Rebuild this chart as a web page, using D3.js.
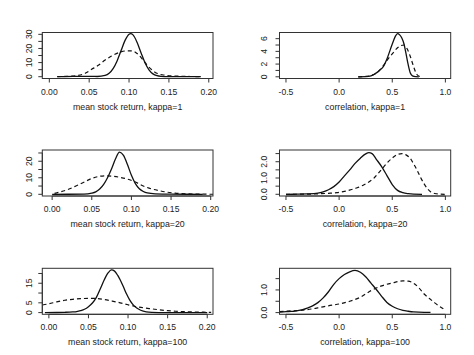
<!DOCTYPE html>
<html><head><meta charset="utf-8">
<script src="https://cdn.jsdelivr.net/npm/d3@7"></script>
<style>body{margin:0;background:#fff}svg{display:block}text{font-family:"Liberation Sans",Arial,sans-serif;fill:#222}</style>
</head><body><svg id="c" width="474" height="355"></svg>
<script>
// ---- data ----
const titles = ["mean stock return, kappa=1","correlation, kappa=1","mean stock return, kappa=20","correlation, kappa=20","mean stock return, kappa=100","correlation, kappa=100"];
const xTicksRet = [0.00,0.05,0.10,0.15,0.20];
const xTickLabelsRet = ["0.00","0.05","0.10","0.15","0.20"];
const xTicksCor = [-0.5,0.0,0.5,1.0];
const xTickLabelsCor = ["-0.5","0.0","0.5","1.0"];
const yTicks1 = [0,5,10,15,20,25,30], yLabels1 = {0:"0",10:"10",20:"20",30:"30"};
const yTicks2 = [0,1,2,3,4,5,6], yLabels2 = {0:"0",2:"2",4:"4",6:"6"};
const yTicks3 = [0,5,10,15,20,25], yLabels3 = {0:"0",10:"10",20:"20"};
const yTicks4 = [0,0.5,1,1.5,2,2.5], yLabels4 = {0:"0.0",1:"1.0",2:"2.0"};
const yTicks5 = [0,5,10,15,20], yLabels5 = {0:"0",5:"5",15:"15"};
const yTicks6 = [0,0.5,1,1.5], yLabels6 = {0:"0.0",1:"1.0"};

// panel 1: mean stock return, kappa=1
const p1SolidX = [0.01,0.03,0.045,0.055,0.06,0.07,0.075,0.08,0.085,0.09,0.095,0.10,0.102,0.105,0.11,0.115,0.12,0.125,0.13,0.135,0.14,0.15,0.17,0.19];
const p1SolidY = [0.05,0.2,0.3,0.2,0.15,0.9,2.4,5.7,11.2,18.5,25.7,30.1,30.5,29.6,24.4,17.0,9.9,4.9,2.0,0.7,0.25,0.05,0.02,0.0];
const p1DashX = [0.01,0.025,0.035,0.045,0.053,0.062,0.070,0.078,0.087,0.095,0.1035,0.110,0.116,0.1225,0.129,0.135,0.1435,0.156,0.173,0.19];
const p1DashY = [0.1,0.3,0.8,2.4,5.2,8.3,11.8,14.6,17.0,18.2,18.3,16.5,13.0,8.3,4.7,2.4,1.2,0.5,0.2,0.1];
// panel 2: correlation, kappa=1
const p2SolidX = [0.18,0.25,0.30,0.34,0.38,0.42,0.45,0.48,0.51,0.53,0.55,0.57,0.59,0.61,0.63,0.65,0.67,0.69,0.72,0.75];
const p2SolidY = [0.0,0.03,0.15,0.5,1.0,1.7,2.8,4.2,5.6,6.4,6.8,6.6,6.1,5.2,3.6,1.9,0.6,0.15,0.02,0.0];
const p2DashX = [0.18,0.25,0.30,0.35,0.40,0.435,0.47,0.50,0.545,0.58,0.61,0.64,0.67,0.70,0.73,0.76,0.78];
const p2DashY = [0.0,0.05,0.2,0.6,1.4,2.2,3.0,3.6,4.5,4.9,5.0,4.4,3.2,1.65,0.4,0.05,0.0];
// panel 3: mean stock return, kappa=20
const p3SolidX = [0.0,0.02,0.04,0.05,0.055,0.06,0.065,0.07,0.075,0.08,0.085,0.09,0.095,0.10,0.105,0.11,0.115,0.12,0.13,0.15,0.17,0.19];
const p3SolidY = [0.0,0.03,0.1,0.7,1.5,3.2,6.0,10.2,15.5,21.5,25.5,23.5,18.0,11.5,6.5,3.4,1.7,0.8,0.25,0.05,0.02,0.0];
const p3DashX = [0.003,0.01,0.02,0.03,0.04,0.05,0.06,0.068,0.075,0.085,0.095,0.105,0.115,0.125,0.135,0.145,0.155,0.17,0.185,0.205];
const p3DashY = [0.6,1.4,2.9,5.0,7.3,9.6,10.9,11.2,11.0,10.3,9.2,7.4,5.0,3.3,2.2,1.3,0.7,0.25,0.1,0.03];
// panel 4: correlation, kappa=20
const p4SolidX = [-0.5,-0.4,-0.3,-0.2,-0.15,-0.1,-0.05,0.0,0.05,0.1,0.15,0.2,0.25,0.28,0.31,0.35,0.4,0.45,0.5,0.55,0.6,0.65,0.7,0.78];
const p4SolidY = [0.0,0.005,0.02,0.07,0.15,0.28,0.47,0.75,1.13,1.5,1.9,2.22,2.48,2.56,2.5,2.15,1.7,1.15,0.6,0.24,0.1,0.04,0.01,0.0];
const p4DashX = [-0.5,-0.3,-0.2,-0.1,-0.02,0.05,0.105,0.17,0.23,0.28,0.326,0.37,0.42,0.47,0.514,0.55,0.592,0.63,0.67,0.70,0.733,0.765,0.797,0.83,0.86,0.9,0.95,1.0];
const p4DashY = [0.0,0.01,0.03,0.06,0.1,0.18,0.27,0.4,0.57,0.76,0.98,1.3,1.69,2.05,2.3,2.45,2.5,2.42,2.2,1.88,1.49,1.05,0.67,0.35,0.16,0.05,0.01,0.0];
// panel 5: mean stock return, kappa=100
const p5SolidX = [-0.005,0.01,0.02,0.03,0.035,0.04,0.045,0.05,0.055,0.06,0.065,0.07,0.075,0.079,0.083,0.087,0.09,0.094,0.098,0.102,0.106,0.111,0.116,0.123,0.13,0.15,0.17,0.2];
const p5SolidY = [0.0,0.05,0.15,0.35,0.55,1.0,1.7,3.0,4.9,7.8,12.2,16.8,20.4,21.8,21.2,19.0,16.8,13.3,9.6,6.5,4.2,2.3,1.2,0.4,0.15,0.03,0.01,0.0];
const p5DashX = [-0.008,0.0,0.01,0.02,0.03,0.04,0.05,0.06,0.07,0.08,0.09,0.10,0.11,0.12,0.13,0.14,0.15,0.16,0.17,0.18,0.19,0.20,0.205];
const p5DashY = [3.9,4.5,5.5,6.3,6.8,7.1,7.3,7.2,6.7,5.9,5.0,4.0,3.1,2.4,1.9,1.4,1.0,0.7,0.5,0.35,0.25,0.15,0.1];
// panel 6: correlation, kappa=100
const p6SolidX = [-0.56,-0.5,-0.45,-0.4,-0.35,-0.3,-0.25,-0.2,-0.15,-0.1,-0.05,0.0,0.05,0.1,0.15,0.2,0.25,0.3,0.35,0.4,0.45,0.5,0.55,0.6,0.65,0.7,0.8,0.86];
const p6SolidY = [0.02,0.04,0.05,0.08,0.12,0.2,0.3,0.44,0.65,0.92,1.25,1.5,1.68,1.8,1.86,1.78,1.58,1.3,1.02,0.72,0.45,0.28,0.17,0.1,0.06,0.03,0.01,0.01];
const p6DashX = [-0.56,-0.5,-0.4,-0.3,-0.2,-0.1,0.0,0.1,0.2,0.3,0.4,0.5,0.6,0.65,0.7,0.75,0.8,0.85,0.9,0.95,1.0];
const p6DashY = [0.04,0.06,0.09,0.13,0.21,0.3,0.38,0.5,0.68,0.97,1.18,1.31,1.4,1.39,1.3,1.1,0.82,0.62,0.43,0.26,0.11];

// ---- layout ----
const colBox = [[42.3,213],[279.5,450.7]];
const rowTop = [32.5,150,268.3];
const boxH = 46;
const xDomRet = [[-0.0088,0.2053],[-0.0124,0.2029],[-0.0083,0.2073]];
const xDomCor = [-0.561,1.05];
const yDoms = [[-1.27,31.3],[-0.27,6.97],[-1.03,26.8],[-0.105,2.72],[-0.87,22.65],[-0.075,1.956]];
const yLabOff = [13,16];

const panels = [
  {sx:p1SolidX,sy:p1SolidY,dx:p1DashX,dy:p1DashY,yt:yTicks1,yl:yLabels1},
  {sx:p2SolidX,sy:p2SolidY,dx:p2DashX,dy:p2DashY,yt:yTicks2,yl:yLabels2},
  {sx:p3SolidX,sy:p3SolidY,dx:p3DashX,dy:p3DashY,yt:yTicks3,yl:yLabels3},
  {sx:p4SolidX,sy:p4SolidY,dx:p4DashX,dy:p4DashY,yt:yTicks4,yl:yLabels4},
  {sx:p5SolidX,sy:p5SolidY,dx:p5DashX,dy:p5DashY,yt:yTicks5,yl:yLabels5},
  {sx:p6SolidX,sy:p6SolidY,dx:p6DashX,dy:p6DashY,yt:yTicks6,yl:yLabels6}
];

const svg = d3.select("#c");
svg.append("rect").attr("width",474).attr("height",355).attr("fill","#fff");
const FS = 8.6, FT = 8.8, axisCol = "#333", tick = 4;

panels.forEach((p,i)=>{
  const col = i%2, row = Math.floor(i/2);
  const [x0,x1] = colBox[col];
  const y0 = rowTop[row], y1 = y0+boxH;
  const xs = d3.scaleLinear().domain(col===0 ? xDomRet[row] : xDomCor).range([x0,x1]);
  const ys = d3.scaleLinear().domain(yDoms[i]).range([y1,y0]);
  const g = svg.append("g");
  const cid = "clip"+i;
  svg.append("clipPath").attr("id",cid).append("rect").attr("x",x0).attr("y",y0).attr("width",x1-x0).attr("height",y1-y0);

  const line = d3.line().x(d=>xs(d[0])).y(d=>ys(d[1])).curve(d3.curveMonotoneX);
  g.append("path").attr("clip-path",`url(#${cid})`)
    .attr("d", line(d3.zip(p.dx,p.dy)))
    .attr("fill","none").attr("stroke","#111").attr("stroke-width",1.2).attr("stroke-dasharray","4,3");
  g.append("path").attr("clip-path",`url(#${cid})`)
    .attr("d", line(d3.zip(p.sx,p.sy)))
    .attr("fill","none").attr("stroke","#111").attr("stroke-width",1.3);

  // box
  g.append("rect").attr("x",x0).attr("y",y0).attr("width",x1-x0).attr("height",y1-y0)
    .attr("fill","none").attr("stroke",axisCol).attr("stroke-width",1);

  // x axis
  const xt = col===0 ? xTicksRet : xTicksCor;
  const xl = col===0 ? xTickLabelsRet : xTickLabelsCor;
  g.append("line").attr("x1",xs(xt[0])).attr("x2",xs(xt[xt.length-1])).attr("y1",y1).attr("y2",y1).attr("stroke",axisCol);
  xt.forEach((t,k)=>{
    g.append("line").attr("x1",xs(t)).attr("x2",xs(t)).attr("y1",y1).attr("y2",y1+tick).attr("stroke",axisCol);
    g.append("text").attr("x",xs(t)).attr("y",y1+13).attr("dy","0.35em").attr("text-anchor","middle")
      .attr("font-size",FS).text(xl[k]);
  });
  g.append("text").attr("x",(x0+x1)/2).attr("y",y1+28).attr("dy","0.35em").attr("text-anchor","middle")
    .attr("font-size",FT).text(titles[i]);

  // y axis
  const yt = p.yt;
  g.append("line").attr("x1",x0).attr("x2",x0).attr("y1",ys(yt[0])).attr("y2",ys(yt[yt.length-1])).attr("stroke",axisCol);
  yt.forEach(t=>{
    g.append("line").attr("x1",x0-tick).attr("x2",x0).attr("y1",ys(t)).attr("y2",ys(t)).attr("stroke",axisCol);
    if (p.yl[t]!==undefined) {
      g.append("text").attr("transform",`translate(${x0-yLabOff[col]},${ys(t)}) rotate(-90)`)
        .attr("dy","0.35em").attr("text-anchor","middle").attr("font-size",FS).text(p.yl[t]);
    }
  });
});
</script></body></html>
